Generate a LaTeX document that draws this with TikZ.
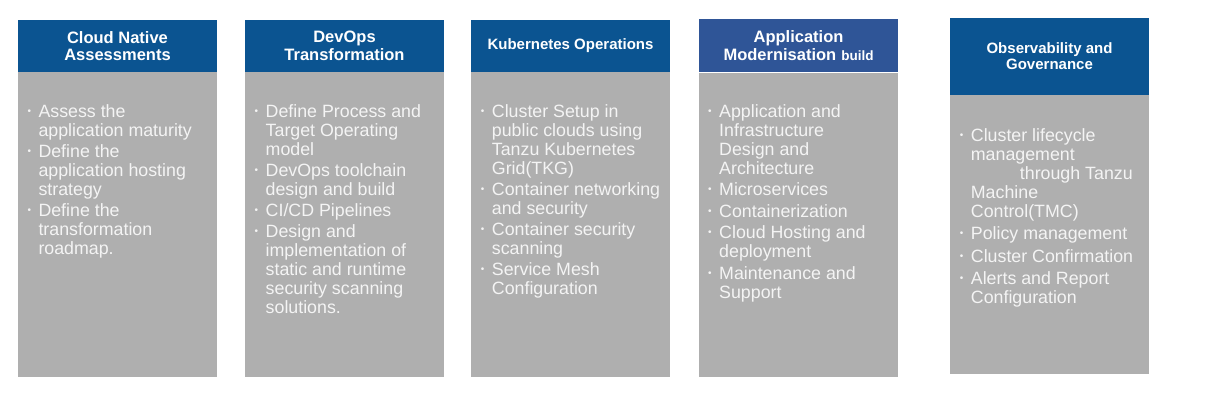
\documentclass[tikz,border=0pt]{standalone}
\usepackage{fontspec}
\setmainfont{Liberation Sans}
\usetikzlibrary{positioning}
\definecolor{hdrblue}{HTML}{0B5491}
\definecolor{hdrblueb}{HTML}{2F5597}
\definecolor{boxgrey}{HTML}{AFAFAF}
\definecolor{txtwhite}{HTML}{F4F4F4}
\newcommand{\bl}{\raisebox{2.8pt}{\fontsize{10}{10}\selectfont\textbullet}}
\begin{document}
\begin{tikzpicture}[x=1pt,y=-1pt,
  hdr/.style={fill=hdrblue,text=white,minimum width=199pt,inner sep=0pt,align=center,
    font=\bfseries\fontsize{16.5}{17.5}\selectfont},
  hdrsmall/.style={hdr,font=\bfseries\fontsize{15}{16}\selectfont},
  bodybox/.style={fill=boxgrey,minimum width=199pt,inner sep=0pt},
  lst/.style={anchor=base west,inner sep=0pt,text=txtwhite,font=\fontsize{17.8}{19}\selectfont}]
  \useasboundingbox[fill=white] (0,0) rectangle (1206,402);
  \node[hdr,minimum height=52pt] (h1) at (117.5,46) {Cloud Native\\Assessments};
  \node[hdr,minimum height=52pt] (h2) at (344.5,46) {DevOps\\Transformation};
  \node[hdrsmall,minimum height=52pt] (h3) at (570.5,46) {Kubernetes Operations};
  \node[hdr,minimum height=53pt,fill=hdrblueb] (h4) at (798.5,45.5)
    {Application\\Modernisation\hspace{5pt}{\fontsize{13.5}{16}\selectfont build}};
  \node[hdrsmall,minimum height=77pt] (h5) at (1049.5,56.5) {Observability and\\Governance};
  \foreach \n in {1,2,3}
    \node[bodybox,minimum height=305pt,below=0pt of h\n] (b\n) {};
  \node[bodybox,minimum height=304pt,below=1pt of h4] (b4) {};
  \node[bodybox,minimum height=279pt,below=0pt of h5] (b5) {};
  \node[lst] (l1) at (27.3,117) {\begin{tabular}[t]{@{}p{11pt}@{}l@{}}
    \bl & Assess the\\ & application maturity\\[2pt]
    \bl & Define the\\ & application hosting\\ & strategy\\[2pt]
    \bl & Define the\\ & transformation\\ & roadmap.
  \end{tabular}};
  \node[lst] (l2) at (254.5,117) {\begin{tabular}[t]{@{}p{11pt}@{}l@{}}
    \bl & Define Process and\\ & Target Operating\\ & model\\[2pt]
    \bl & DevOps toolchain\\ & design and build\\[2pt]
    \bl & CI/CD Pipelines\\[2pt]
    \bl & Design and\\ & implementation of\\ & static and runtime\\ & security scanning\\ & solutions.
  \end{tabular}};
  \node[lst] (l3) at (480.7,117) {\begin{tabular}[t]{@{}p{11pt}@{}l@{}}
    \bl & Cluster Setup in\\ & public clouds using\\ & Tanzu Kubernetes\\ & Grid(TKG)\\[2pt]
    \bl & Container networking\\ & and security\\[2pt]
    \bl & Container security\\ & scanning\\[2pt]
    \bl & Service Mesh\\ & Configuration
  \end{tabular}};
  \node[lst] (l4) at (708,117) {\begin{tabular}[t]{@{}p{11pt}@{}l@{}}
    \bl & Application and\\ & Infrastructure\\ & Design and\\ & Architecture\\[2.5pt]
    \bl & Microservices\\[2.5pt]
    \bl & Containerization\\[2.5pt]
    \bl & Cloud Hosting and\\ & deployment\\[2.5pt]
    \bl & Maintenance and\\ & Support
  \end{tabular}};
  \node[lst] (l5) at (959.7,141) {\begin{tabular}[t]{@{}p{11pt}@{}l@{}}
    \bl & Cluster lifecycle\\ & management\\ & \hspace*{49pt}through Tanzu\\ & Machine\\ & Control(TMC)\\[3.5pt]
    \bl & Policy management\\[3.5pt]
    \bl & Cluster Confirmation\\[3.5pt]
    \bl & Alerts and Report\\ & Configuration
  \end{tabular}};
\end{tikzpicture}
\end{document}
